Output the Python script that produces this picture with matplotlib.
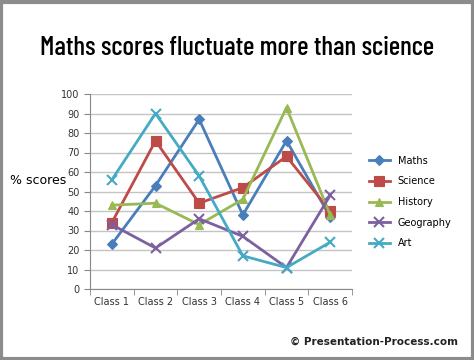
import matplotlib
matplotlib.use("Agg")
import matplotlib.pyplot as plt
from matplotlib.patches import Rectangle
import numpy as np

classes = ["Class 1", "Class 2", "Class 3", "Class 4", "Class 5", "Class 6"]
maths = [23, 53, 87, 38, 76, 37]
science = [34, 76, 44, 52, 68, 40]
history = [43, 44, 33, 46, 93, 38]
geography = [33, 21, 36, 27, 11, 48]
art = [56, 90, 58, 17, 11, 24]

series = [
    ("Maths", maths, "#4A7EBB", "D", 5),
    ("Science", science, "#BE4B48", "s", 7),
    ("History", history, "#98B954", "^", 6),
    ("Geography", geography, "#7D60A0", "x", 7),
    ("Art", art, "#46AAC5", "x", 7),
]

fig = plt.figure(figsize=(4.74, 3.6), dpi=100)
fig.patch.set_facecolor("white")
# grey frame round the picture
fig.add_artist(Rectangle((0.003, 0.004), 0.994, 0.99, transform=fig.transFigure,
                         fill=False, edgecolor="#8c8c8c", linewidth=3))

ax = fig.add_axes([90 / 474, 1 - 289 / 360, 262 / 474, 195 / 360])
x = np.arange(len(classes))
for name, vals, col, mk, ms in series:
    ax.plot(x, vals, color=col, marker=mk, markersize=ms, linewidth=2,
            markeredgewidth=1.5 if mk == "x" else 0.8, label=name)

ax.set_xlim(-0.5, len(classes) - 0.5)
ax.set_ylim(0, 100)
ax.set_yticks(range(0, 101, 10))
ax.yaxis.grid(True, color="#c4c4c4", linewidth=1)
ax.set_axisbelow(True)
ax.set_xticks(x)
ax.set_xticklabels(classes, fontsize=7, color="#333333")
ax.set_xticks(np.arange(-0.5, len(classes)), minor=True)
ax.tick_params(axis="x", which="major", length=0, pad=6)
ax.tick_params(axis="x", which="minor", length=4, color="#888888")
ax.tick_params(axis="y", labelsize=7, length=4, color="#888888", labelcolor="#333333")
for s in ["top", "right"]:
    ax.spines[s].set_visible(False)
ax.spines["left"].set_color("#888888")
ax.spines["bottom"].set_color("#888888")

ax.legend(loc="center left", bbox_to_anchor=(1.03, 0.446), frameon=False,
          fontsize=7, handlelength=2.2, labelspacing=1.1)

fig.text(0.5, 1 - 48 / 360, "Maths scores fluctuate more than science",
         ha="center", va="center", fontsize=19.5, fontweight=500,
         family=["Barlow Condensed", "DejaVu Sans"])
fig.text(10 / 474, 1 - 180 / 360, "% scores", ha="left", va="center", fontsize=9)
fig.text(458 / 474, 1 - 342 / 360, "\u00a9 Presentation-Process.com",
         ha="right", va="center", fontsize=7.5, fontweight="bold", color="#222222")

fig.savefig("out.png", dpi=100)
